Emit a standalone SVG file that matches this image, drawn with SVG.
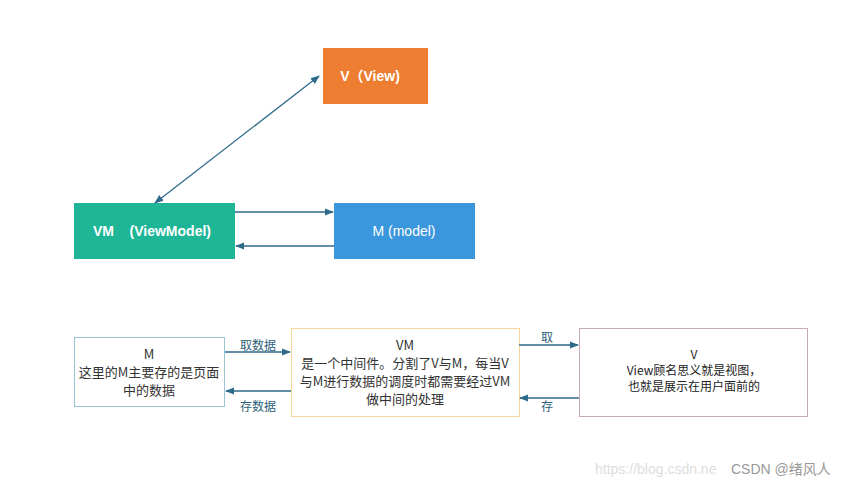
<svg xmlns="http://www.w3.org/2000/svg" width="846" height="487" viewBox="0 0 846 487">
<defs>
<marker id="a" viewBox="0 0 10 10" refX="9" refY="5" markerWidth="7" markerHeight="7" orient="auto-start-reverse"><path d="M0,1 L10,5 L0,9 z" fill="#2e6a8a"/></marker>
<style>
.t{font-family:"Microsoft YaHei","Noto Sans CJK SC",sans-serif;font-size:13px;fill:#333;text-anchor:middle}
.v{font-family:"Noto Sans CJK SC",monospace;font-size:12px;fill:#222;text-anchor:middle}
.w{font-family:"Liberation Sans","Noto Sans CJK SC",sans-serif;font-size:14px;fill:#fff;text-anchor:middle}
.c{stroke:#2e6a8a;stroke-width:1.3;fill:none}
.l{font-family:"Noto Sans CJK SC",sans-serif;font-size:12px;fill:#2e5f7a;text-anchor:middle}
</style>
</defs>
<rect width="846" height="487" fill="#fff"/>
<g id="nV"><rect x="323" y="48" width="105" height="56" fill="#ed7d31"/><text class="w" x="370" y="81" font-weight="bold">V（View)</text></g>
<g id="nVM"><rect x="74" y="203" width="161" height="56" fill="#1fb597"/><text class="w" x="152" y="236" font-weight="bold" xml:space="preserve">VM    (ViewModel)</text></g>
<g id="nM"><rect x="334" y="203" width="141" height="56" fill="#3a96dd"/><text class="w" x="404" y="236">M (model)</text></g>
<g id="bM"><rect x="74.5" y="337.5" width="150" height="69" fill="#fff" stroke="#9cc3d5"/><text class="t" x="149" y="359">M</text><text class="t" x="149" y="377">这里的M主要存的是页面</text><text class="t" x="149" y="395">中的数据</text></g>
<g id="bVM"><rect x="291.5" y="328.5" width="228" height="88" fill="#fff" stroke="#f5d79b"/><text class="t" x="405" y="350">VM</text><text class="t" x="405" y="368">是一个中间件。分割了V与M，每当V</text><text class="t" x="405" y="386">与M进行数据的调度时都需要经过VM</text><text class="t" x="405" y="404">做中间的处理</text></g>
<g id="bV"><rect x="579.5" y="328.5" width="228" height="88" fill="#fff" stroke="#c7aab5"/><text class="v" x="694" y="359">V</text><text class="v" x="694" y="375">View顾名思义就是视图，</text><text class="v" x="694" y="391">也就是展示在用户面前的</text></g>
<g id="connectors">
<line class="c" x1="155" y1="203" x2="319" y2="76" marker-start="url(#a)" marker-end="url(#a)"/>
<line class="c" x1="235" y1="212" x2="333" y2="212" marker-end="url(#a)"/>
<line class="c" x1="334" y1="246" x2="236" y2="246" marker-end="url(#a)"/>
<line class="c" x1="225" y1="352" x2="290" y2="352" marker-end="url(#a)"/>
<line class="c" x1="291" y1="391" x2="226" y2="391" marker-end="url(#a)"/>
<line class="c" x1="519" y1="345" x2="578" y2="345" marker-end="url(#a)"/>
<line class="c" x1="579" y1="398" x2="520" y2="398" marker-end="url(#a)"/>
<text class="l" x="258" y="350">取数据</text>
<text class="l" x="258" y="411">存数据</text>
<text class="l" x="547" y="342">取</text>
<text class="l" x="547" y="411">存</text>
</g>
<text x="595" y="474" font-family="Liberation Sans,sans-serif" font-size="14" fill="#ddd">https://blog.csdn.ne</text>
<text x="731" y="474" font-family="Liberation Sans,'Noto Sans CJK SC',sans-serif" font-size="14" fill="#999">CSDN @绪风人</text>
</svg>
